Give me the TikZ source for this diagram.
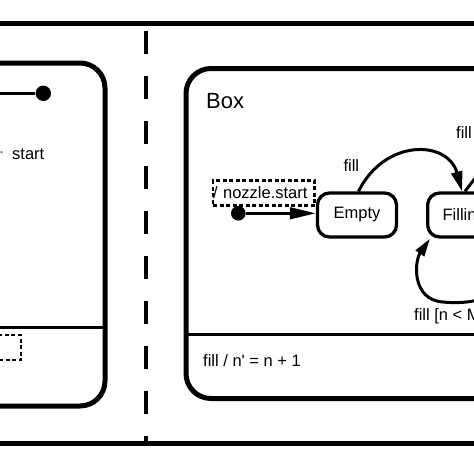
\documentclass[tikz,border=0pt]{standalone}
\usepackage{fontspec}
\newfontfamily\arialf{Liberation Sans}
\usetikzlibrary{arrows.meta,calc}
\begin{document}
\begin{tikzpicture}[x=1pt,y=-1pt,
  txt/.style={font=\arialf\fontsize{16.5}{19}\selectfont, inner sep=0pt},
  lbl/.style={txt, anchor=base west},
  region/.style={draw, line width=5pt, rounded corners=25pt},
  divider/.style={line width=2.5pt},
  frameline/.style={line width=5pt},
  sep/.style={line width=3.5pt, dash pattern=on 22.5pt off 22.5pt},
  statebox/.style={draw, line width=3.3pt, rounded corners=12pt, minimum height=44pt, txt},
  trans/.style={line width=3pt, -{Triangle[length=20pt,width=11pt]}},
  plain/.style={line width=3pt},
  dot/.style={circle, fill=black, inner sep=0pt, minimum size=15.4pt},
  dashbox/.style={draw, line width=2.5pt, dash pattern=on 4pt off 2.5pt, minimum height=25pt},
]
\useasboundingbox (0,0) rectangle (474,474);
\clip (0,0) rectangle (474,474);
\fill[white] (0,0) rectangle (474,474);

% frame lines and separator
\coordinate (tl) at (-10,23.3);
\coordinate (tr) at (484,23.3);
\coordinate (bl) at (-10,443.7);
\coordinate (br) at (484,443.7);
\draw[frameline] (tl) -- (tr);
\draw[frameline] (bl) -- (br);
\coordinate (s1) at (146,31);
\coordinate (s2) at (146,444);
\draw[sep] (s1) -- (s2);

% left region
\draw[region] (-60,63) rectangle (105,406);
\draw[divider] (-60,327.5) -- (105,327.5);
\node[dot] (ldot) at (43.3,93.3) {};
\coordinate (lin) at (-10,93.3);
\draw[plain] (lin) -- (ldot);
\node[circle, fill=black!45, inner sep=0pt, minimum size=3pt] (ldeco) at (1.5,152) {};
\node[lbl] (lstart) at (12,159.3) {start};
\node[dashbox, minimum width=80pt, anchor=east] (ldash) at (22,347.5) {};

% right region
\draw[region] (186,68.5) rectangle (560,398.5);
\draw[divider] (186,334.5) -- (560,334.5);
\node[txt, font=\arialf\fontsize{22}{26}\selectfont, anchor=base west] (boxname) at (206,108.3) {Box};

\node[statebox, minimum width=79pt] (empty) at (357,215) {Empty};
\node[statebox, minimum width=115pt, anchor=west, text width=85pt, align=left, inner xsep=15pt] (filling) at (426,215) {Fillin};

\node[dot, minimum size=14.6pt] (init) at (238.3,213.3) {};
\draw[trans, -{Triangle[length=26pt,width=11.5pt]}] (init) -- (init -| empty.west);
\node[dashbox, txt, minimum width=101.5pt, minimum height=25pt, text width=101.5pt, align=left] (initlbl) at (263.75,193) {/ nozzle.start};

\node[lbl] (f1) at (343.3,171.7) {fill};
\node[lbl] (f2) at (456,138.3) {fill};
\node[lbl] (f3) at (414,320) {fill [n < M};
\node[lbl] (entry) at (203,366.7) {fill / n' = n + 1};

\draw[trans] ([xshift=1.5pt]empty.north) .. controls (385,138) and (448,140) .. ([xshift=36pt]filling.north west);
\coordinate (offfull) at (500,158);
\draw[plain] ([xshift=39pt]filling.north west) .. controls (475,178) and (485,165) .. (offfull);
\coordinate (loopsrc) at (510,285);
\draw[trans, -{Triangle[length=18pt,width=10pt]}] (loopsrc) .. controls (488,302) and (462,304) .. (443,302) .. controls (412,300) and (414,262) .. ([xshift=4pt]filling.south west);
\end{tikzpicture}
\end{document}
